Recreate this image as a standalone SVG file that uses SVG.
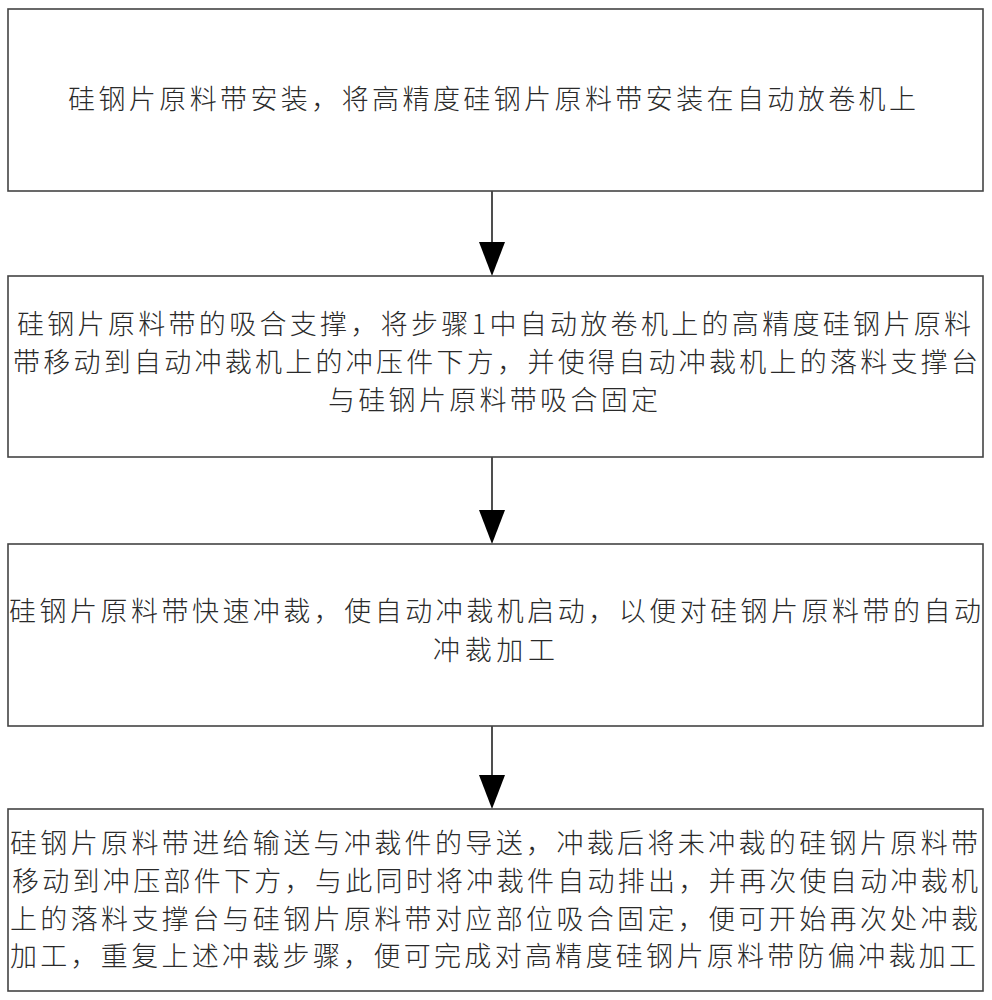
<svg xmlns="http://www.w3.org/2000/svg" width="992" height="1000" viewBox="0 0 992 1000">
<defs>
<style>
.box{fill:#fff;stroke:#444;stroke-width:1.6}
.t{font-family:"Noto Sans CJK SC","Liberation Sans",sans-serif;font-size:27px;font-weight:300;fill:#2a2a2a;dominant-baseline:central}
.ln{stroke:#222;stroke-width:1.6;fill:none}
.ah{fill:#000}
</style>
</defs>
<rect width="992" height="1000" fill="#fff"/>
<g id="connectors">
<line class="ln" x1="492" y1="191" x2="492" y2="244"/>
<polygon class="ah" points="479,242 505,242 492,276"/>
<line class="ln" x1="492" y1="457" x2="492" y2="512"/>
<polygon class="ah" points="479,510 505,510 492,544"/>
<line class="ln" x1="492" y1="726" x2="492" y2="777"/>
<polygon class="ah" points="479,775 505,775 492,809"/>
</g>
<g id="step1">
<rect class="box" x="8" y="9" width="975" height="182"/>
<text class="t" x="68" y="97" textLength="848" lengthAdjust="spacing">硅钢片原料带安装，将高精度硅钢片原料带安装在自动放卷机上</text>
</g>
<g id="step2">
<rect class="box" x="8" y="276" width="975" height="181"/>
<text class="t" x="17" y="322" textLength="954" lengthAdjust="spacing">硅钢片原料带的吸合支撑，将步骤1中自动放卷机上的高精度硅钢片原料</text>
<text class="t" x="13" y="360" textLength="965" lengthAdjust="spacing">带移动到自动冲裁机上的冲压件下方，并使得自动冲裁机上的落料支撑台</text>
<text class="t" x="328" y="398" textLength="330" lengthAdjust="spacing">与硅钢片原料带吸合固定</text>
</g>
<g id="step3">
<rect class="box" x="8" y="544" width="975" height="182"/>
<text class="t" x="9" y="609" textLength="972" lengthAdjust="spacing">硅钢片原料带快速冲裁，使自动冲裁机启动，以便对硅钢片原料带的自动</text>
<text class="t" x="433" y="648" textLength="122" lengthAdjust="spacing">冲裁加工</text>
</g>
<g id="step4">
<rect class="box" x="8" y="809" width="975" height="182"/>
<text class="t" x="10" y="841" textLength="968" lengthAdjust="spacing">硅钢片原料带进给输送与冲裁件的导送，冲裁后将未冲裁的硅钢片原料带</text>
<text class="t" x="12" y="879" textLength="966" lengthAdjust="spacing">移动到冲压部件下方，与此同时将冲裁件自动排出，并再次使自动冲裁机</text>
<text class="t" x="10" y="917" textLength="968" lengthAdjust="spacing">上的落料支撑台与硅钢片原料带对应部位吸合固定，便可开始再次处冲裁</text>
<text class="t" x="10" y="954" textLength="966" lengthAdjust="spacing">加工，重复上述冲裁步骤，便可完成对高精度硅钢片原料带防偏冲裁加工</text>
</g>
</svg>
